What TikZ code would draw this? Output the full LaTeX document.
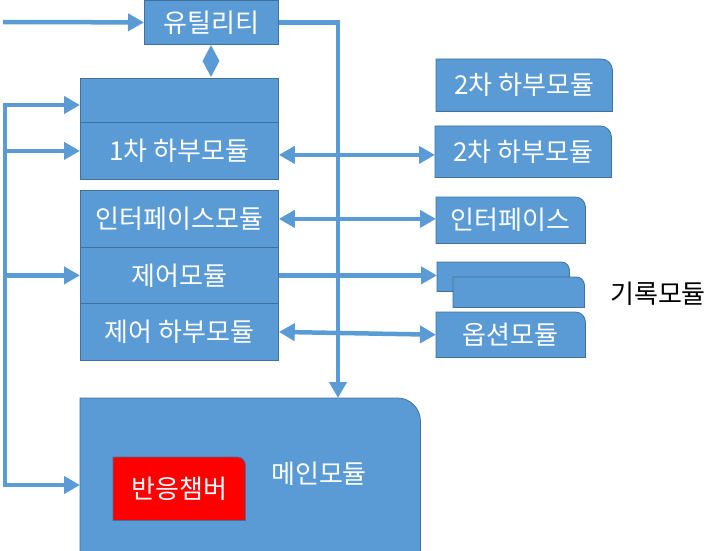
\documentclass[tikz,border=0pt]{standalone}
\usepackage{fontspec}
\newfontfamily\kr{Noto Sans CJK KR}
\usetikzlibrary{arrows.meta,shapes.geometric}
\pgfdeclarelayer{bg}
\pgfsetlayers{bg,main}
\definecolor{blu}{HTML}{5B9BD5}
\definecolor{bord}{HTML}{41719C}
\newcommand\mytrshape[3]{%
  \begin{pgfonlayer}{bg}
  \filldraw[draw=bord, line width=0.8pt, fill=#3] (#1.south west) -- (#1.north west) -- ([xshift=-#2pt]#1.north east) arc[start angle=90,end angle=0,radius=#2pt] -- (#1.south east) -- cycle;
  \end{pgfonlayer}}
\begin{document}
\begin{tikzpicture}[x=1pt,y=1pt,
  txt/.style={font=\kr\fontsize{26}{30}\selectfont},
  box/.style={txt, draw=bord, line width=0.8pt, fill=blu, text=white, inner sep=0pt, anchor=north west},
  tbox/.style={txt, text=white, inner sep=0pt, anchor=north west},
  arr/.style={draw=blu, line width=4.5pt, -{Triangle[length=16pt,width=17pt]}},
  darr/.style={draw=blu, line width=4.5pt, {Triangle[length=16pt,width=17pt]}-{Triangle[length=16pt,width=17pt]}}
]
\useasboundingbox (0,0) rectangle (721,-551);

% left column
\node[box, minimum width=134pt, minimum height=44pt] (util) at (144,0) {유틸리티};
\node[box, minimum width=198pt, minimum height=44pt] (top) at (80,-78) {};
\node[box, minimum width=198pt, minimum height=57pt] (sub1) at (80,-122) {1차 하부모듈};
\node[box, minimum width=198pt, minimum height=57pt] (ifm) at (80,-190) {인터페이스모듈};
\node[box, minimum width=198pt, minimum height=56pt] (ctl) at (80,-247) {제어모듈};
\node[box, minimum width=198pt, minimum height=57pt] (ctls) at (80,-303) {제어 하부모듈};
\node[diamond, fill=blu, inner sep=0pt, minimum width=17pt, minimum height=32pt] (dia) at (211,-61) {};

% main module
\node[tbox, minimum width=340pt, minimum height=158pt] (main) at (80,-398) {};
\mytrshape{main}{23}{blu}
\node[txt, text=white] (maintxt) at (319,-474) {메인모듈};
\node[tbox, minimum width=132pt, minimum height=63pt] (cham) at (113,-457) {반응챔버};
\mytrshape{cham}{8}{red}

% right boxes
\node[tbox, minimum width=176pt, minimum height=52pt] (sub2a) at (436,-59) {2차 하부모듈};
\mytrshape{sub2a}{11}{blu}
\node[tbox, minimum width=176pt, minimum height=51pt] (sub2b) at (435,-126) {2차 하부모듈};
\mytrshape{sub2b}{11}{blu}
\node[tbox, minimum width=149pt, minimum height=46pt] (iface) at (436,-197) {인터페이스};
\mytrshape{iface}{10}{blu}
\node[tbox, minimum width=132pt, minimum height=29pt] (rec1) at (437,-262) {};
\mytrshape{rec1}{8}{blu}
\node[tbox, minimum width=131pt, minimum height=30pt] (rec2) at (453,-277) {};
\mytrshape{rec2}{8}{blu}
\node[tbox, minimum width=149pt, minimum height=45pt] (opt) at (436,-312) {옵션모듈};
\mytrshape{opt}{10}{blu}
\node[txt, text=black] (reclbl) at (658,-294) {기록모듈};

% connectors
\coordinate (in) at (3,-22);
\draw[arr] (in) -- (util.west);
\coordinate (drop) at (338,0);
\draw[arr] (util.east) -| (drop |- main.north);

\coordinate (bt) at (5,-105);
\coordinate (bb) at (5,-485);
\draw[arr] (bb) |- (top.west |- bt);
\draw[arr, line cap=rect] (bb) -- (main.west |- bb);
\draw[arr] (bb |- sub1.west) -- (sub1.west);
\draw[arr] (bb |- ctl.west) -- (ctl.west);

\draw[darr] ([yshift=-4pt]sub1.east) -- ([yshift=-4pt]sub1.east -| sub2b.west);
\draw[darr] (ifm.east) -- (ifm.east -| iface.west);
\draw[arr] (ctl.east) -- (ctl.east -| rec1.west);
\draw[darr] (ctls.east) -- (opt.west);
\end{tikzpicture}
\end{document}
